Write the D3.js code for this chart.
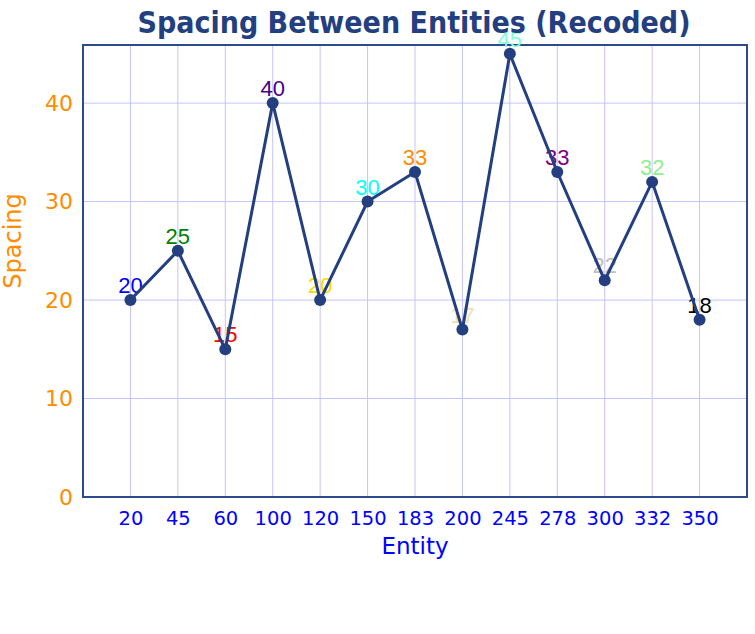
<!DOCTYPE html>
<html>
<head>
<meta charset="utf-8">
<script src="https://cdn.jsdelivr.net/npm/d3@7"></script>
<style>
  body { margin: 0; background: #fff; }
</style>
</head>
<body>
<div id="chart"></div>
<script>
// data
const entities = ["20", "45", "60", "100", "120", "150", "183", "200", "245", "278", "300", "332", "350"];
const spacing = [20, 25, 15, 40, 20, 30, 33, 17, 45, 33, 22, 32, 18];
const labelColors = ["blue", "green", "red", "indigo", "gold", "cyan", "darkorange",
    "wheat", "aquamarine", "purple", "silver", "lightgreen", "black"];
const yTicks = [0, 10, 20, 30, 40];

let width = 755
let height = 634
let margin = {top: 45, right: 8, bottom: 137, left: 83}
let plotW = width - margin.left - margin.right
let plotH = height - margin.top - margin.bottom

let svg = d3.select("#chart")
    .append("svg")
    .attr("width", width)
    .attr("height", height)

let x = d3.scalePoint()
    .domain(entities)
    .range([0, plotW])
    .padding(1)

let y = d3.scaleLinear()
    .domain([0, 45.9])
    .range([plotH, 0])

let g = svg.append("g")
    .attr("transform", "translate(" + margin.left + "," + margin.top + ")")

// grid
g.selectAll(".vgrid")
    .data(entities)
    .enter()
    .append("line")
    .attr("x1", d => x(d)).attr("x2", d => x(d))
    .attr("y1", 0).attr("y2", plotH)
    .attr("stroke", "#c4c4fa")
    .attr("stroke-width", 1)

g.selectAll(".hgrid")
    .data(yTicks)
    .enter()
    .append("line")
    .attr("x1", 0).attr("x2", plotW)
    .attr("y1", d => y(d)).attr("y2", d => y(d))
    .attr("stroke", "#c4c4fa")
    .attr("stroke-width", 1)

// axes (text only, frame drawn separately)
let xAxis = g.append("g")
    .attr("transform", "translate(0," + plotH + ")")
    .call(d3.axisBottom(x).tickSize(0).tickPadding(14))
xAxis.select(".domain").remove()
xAxis.selectAll("text")
    .attr("fill", "#0000ff")
    .style("font-family", "Verdana, 'DejaVu Sans', sans-serif")
    .style("font-size", "19.5px")

let yAxis = g.append("g")
    .call(d3.axisLeft(y).tickValues(yTicks).tickSize(0).tickPadding(10))
yAxis.select(".domain").remove()
yAxis.selectAll("text")
    .attr("fill", "#ff8c00")
    .style("font-family", "Verdana, 'DejaVu Sans', sans-serif")
    .style("font-size", "22px")

// frame
g.append("rect")
    .attr("x", 0).attr("y", 0)
    .attr("width", plotW).attr("height", plotH)
    .attr("fill", "none")
    .attr("stroke", "#2c4a8c")
    .attr("stroke-width", 2)

let pts = entities.map((e, i) => ({e: e, v: spacing[i], c: labelColors[i]}))

// value labels (under the line)
g.selectAll(".vlabel")
    .data(pts)
    .enter()
    .append("text")
    .attr("x", d => x(d.e))
    .attr("y", d => y(d.v) - 7)
    .attr("text-anchor", "middle")
    .attr("fill", d => d.c)
    .style("font-family", "Arial, 'Liberation Sans', sans-serif")
    .style("font-size", "22px")
    .text(d => d.v)

let line = d3.line()
    .x(d => x(d.e))
    .y(d => y(d.v))

g.append("path")
    .datum(pts)
    .attr("d", line)
    .attr("fill", "none")
    .attr("stroke", "#233f80")
    .attr("stroke-width", 3)

g.selectAll(".dot")
    .data(pts)
    .enter()
    .append("circle")
    .attr("cx", d => x(d.e))
    .attr("cy", d => y(d.v))
    .attr("r", 6)
    .attr("fill", "#233f80")

// titles
svg.append("text")
    .attr("x", 414)
    .attr("y", 33)
    .attr("text-anchor", "middle")
    .attr("fill", "#233f80")
    .style("font-family", "'DejaVu Sans Condensed', 'DejaVu Sans', sans-serif")
    .style("font-weight", "bold")
    .style("font-size", "30px")
    .text("Spacing Between Entities (Recoded)")

svg.append("text")
    .attr("x", margin.left + plotW / 2)
    .attr("y", 554)
    .attr("text-anchor", "middle")
    .attr("fill", "#0000ff")
    .style("font-family", "Verdana, 'DejaVu Sans', sans-serif")
    .style("font-size", "23px")
    .text("Entity")

svg.append("text")
    .attr("transform", "translate(21,241) rotate(-90)")
    .attr("text-anchor", "middle")
    .attr("fill", "#ff8c00")
    .style("font-family", "Verdana, 'DejaVu Sans', sans-serif")
    .style("font-size", "24px")
    .text("Spacing")
</script>
</body>
</html>
